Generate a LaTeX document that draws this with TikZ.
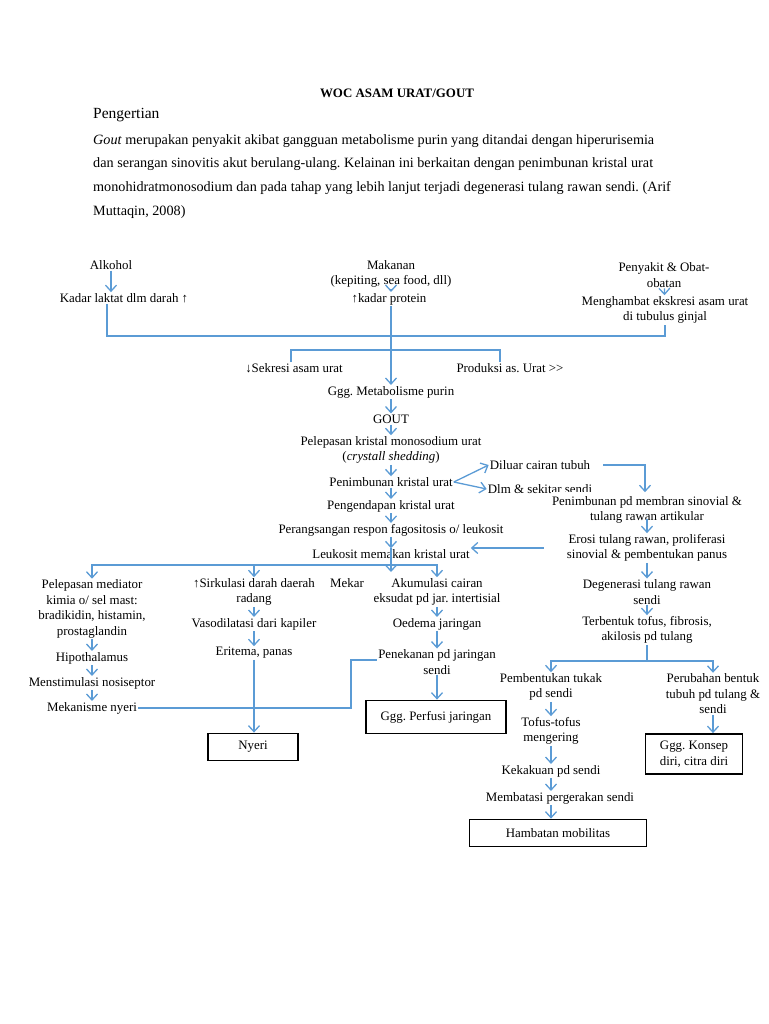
\documentclass[tikz,border=0pt]{standalone}
\usepackage{fontspec}
\setmainfont{Liberation Serif}
\frenchspacing
\usetikzlibrary{arrows.meta, positioning}
\definecolor{biru}{HTML}{5B9BD5}
\tikzset{
  teks/.style = {align=center, inner sep=1pt, font=\fontsize{12.9}{15.5}\selectfont},
  kotak/.style = {teks, draw, line width=1.8pt, minimum height=27pt},
  panah/.style = {draw=biru, line width=1.3pt, -{Straight Barb[length=6pt, width=11pt]}},
  sambung/.style = {draw=biru, line width=1.3pt}
}

\begin{document}
\begin{tikzpicture}[x=1pt, y=-1pt]
  \useasboundingbox (0,0) rectangle (768,1024);

  % Judul dan pengertian
  \node[font=\fontsize{12.9}{15}\selectfont\bfseries] (judul) at (397,93) {WOC ASAM URAT/GOUT};
  \node[anchor=west, inner sep=0, font=\fontsize{15.5}{24}\selectfont] (pengertian) at (93,115) {Pengertian};
  \node[anchor=north west, inner sep=0, align=left, font=\fontsize{14.2}{23.8}\selectfont] (definisi) at (93,134)
    {\textit{Gout} merupakan penyakit akibat gangguan metabolisme purin yang ditandai dengan hiperurisemia\\
     dan serangan sinovitis akut berulang-ulang. Kelainan ini berkaitan dengan penimbunan kristal urat\\
     monohidratmonosodium dan pada tahap yang lebih lanjut terjadi degenerasi tulang rawan sendi. (Arif\\
     Muttaqin, 2008)};

  % Penyebab
  \node[teks] (alkohol) at (111,265) {Alkohol};
  \node[teks] (laktat) at (124,298) {Kadar laktat dlm darah ↑};
  \node[teks] (makanan) at (391,274) {Makanan\\(kepiting, sea food, dll)};
  \node[teks] (protein) at (389,299) {↑kadar protein};
  \node[teks] (penyakit) at (664,275) {Penyakit \& Obat-\\obatan};
  \node[teks] (hambat) at (665,310) {Menghambat ekskresi asam urat\\di tubulus ginjal};
  \node[teks] (sekresi) at (294,368) {↓Sekresi asam urat};
  \node[teks] (produksi) at (510,368) {Produksi as. Urat >{}>};

  % Rantai tengah
  \node[teks] (metabolisme) at (391,392) {Ggg. Metabolisme purin};
  \node[teks] (gout) at (391,419) {GOUT};
  \node[teks] (pelepasan) at (391,450) {Pelepasan kristal monosodium urat\\(\textit{crystall shedding})};
  \node[teks] (penimbunan) at (391,482) {Penimbunan kristal urat};
  \node[teks] (diluar) at (540,465) {Diluar cairan tubuh};
  \node[teks] (dlm) at (540,489) {Dlm \& sekitar sendi};
  \node[teks] (pengendapan) at (391,506) {Pengendapan kristal urat};
  \node[teks] (perangsangan) at (391,530) {Perangsangan respon fagositosis o/ leukosit};
  \node[teks] (leukosit) at (391,554) {Leukosit memakan kristal urat};

  % Cabang kanan
  \node[teks, fill=white, inner ysep=4pt] (membran) at (647,510) {Penimbunan pd membran sinovial \&\\tulang rawan artikular};
  \node[teks] (erosi) at (647,548) {Erosi tulang rawan, proliferasi\\sinovial \& pembentukan panus};
  \node[teks] (degenerasi) at (647,592) {Degenerasi tulang rawan\\sendi};
  \node[teks] (tofus) at (647,630) {Terbentuk tofus, fibrosis,\\akilosis pd tulang};
  \node[teks] (pembentukan) at (551,687) {Pembentukan tukak\\pd sendi};
  \node[teks] (tofusk) at (551,731) {Tofus-tofus\\mengering};
  \node[teks] (kekakuan) at (551,771) {Kekakuan pd sendi};
  \node[teks] (membatasi) at (560,798) {Membatasi pergerakan sendi};
  \node[kotak, minimum width=177pt] (mobilitas) at (558,833) {Hambatan mobilitas};
  \node[teks] (perubahan) at (713,694) {Perubahan bentuk\\tubuh pd tulang \&\\sendi};
  \node[kotak, minimum width=97pt, minimum height=40pt] (konsep) at (694,754) {Ggg. Konsep\\diri, citra diri};

  % Cabang kiri
  \node[teks] (mediator) at (92,609) {Pelepasan mediator\\kimia o/ sel mast:\\bradikidin, histamin,\\prostaglandin};
  \node[teks] (hipothalamus) at (92,658) {Hipothalamus};
  \node[teks] (nosiseptor) at (92,683) {Menstimulasi nosiseptor};
  \node[teks] (mekanisme) at (92,708) {Mekanisme nyeri};
  \node[teks] (sirkulasi) at (254,592) {↑Sirkulasi darah daerah\\radang};
  \node[teks] (vasodilatasi) at (254,624) {Vasodilatasi dari kapiler};
  \node[teks] (eritema) at (254,653) {Eritema, panas};
  \node[kotak, minimum width=90pt] (nyeri) at (253,747) {Nyeri};
  \node[teks] (mekar) at (347,583) {Mekar};
  \node[teks] (akumulasi) at (437,592) {Akumulasi cairan\\eksudat pd jar. intertisial};
  \node[teks] (oedema) at (437,624) {Oedema jaringan};
  \node[teks] (penekanan) at (437,662) {Penekanan pd jaringan\\sendi};
  \node[kotak, minimum width=140pt, minimum height=33pt] (perfusi) at (436,717) {Ggg. Perfusi jaringan};

  % Koordinat bantu
  \coordinate (gabung) at (391,336);
  \coordinate (cabang) at (391,350);
  \coordinate (bagi) at (391,565);
  \coordinate (belok) at (351,660);
  \coordinate (pisah) at (647,661);

  % Sambungan penyebab
  \draw[panah] (alkohol) -- (alkohol |- laktat.north);
  \draw[panah] (makanan) -- (makanan |- protein.north);
  \draw[panah] (penyakit) -- (hambat);
  \draw[sambung] ([xshift=-4pt]alkohol |- laktat.south) |- (gabung) -| (hambat.south);
  \draw[sambung] ([xshift=-3pt]sekresi.north) |- (cabang) -| ([xshift=-10pt]produksi.north);
  \draw[panah] (protein.south -| gabung) -- (metabolisme);

  % Sambungan rantai tengah
  \draw[panah] (metabolisme) -- (gout);
  \draw[panah] (gout) -- (pelepasan);
  \draw[panah] (pelepasan) -- (penimbunan);
  \draw[panah] (penimbunan.east) -- (diluar.west);
  \draw[panah] (penimbunan.east) -- (dlm.west);
  \draw[panah] (penimbunan) -- (pengendapan);
  \draw[panah] (pengendapan) -- (perangsangan);
  \draw[panah] (perangsangan) -- (leukosit);
  \draw[panah] (leukosit.north) -- ([yshift=-7pt]bagi);
  \draw[panah] (bagi) -| (mediator.north);
  \draw[panah] (bagi) -| (sirkulasi.north);
  \draw[panah] (bagi) -| (akumulasi.north);

  % Sambungan kanan
  \draw[panah] ([xshift=12pt]diluar.east) -| ([xshift=-2pt]membran.north);
  \draw[panah] ([yshift=9pt]membran.south) -- (erosi.north);
  \draw[panah] ([xshift=-22pt]erosi.west) -- (erosi.west -| leukosit.east);
  \draw[panah] (erosi) -- (degenerasi);
  \draw[panah] (degenerasi) -- (tofus);
  \draw[sambung] (tofus) -- (pisah);
  \draw[panah] (pisah) -| (pembentukan.north);
  \draw[panah] (pisah) -| (perubahan.north);
  \draw[panah] (pembentukan) -- (tofusk);
  \draw[panah] (tofusk) -- (kekakuan);
  \draw[panah] (kekakuan) -- (kekakuan |- membatasi.north);
  \draw[panah] (membatasi.south -| kekakuan) -- (kekakuan |- mobilitas.north);
  \draw[panah] (perubahan.south) -- (perubahan |- konsep.north);

  % Sambungan kiri
  \draw[panah] (mediator) -- (hipothalamus);
  \draw[panah] (hipothalamus) -- (nosiseptor);
  \draw[panah] (nosiseptor) -- (mekanisme);
  \draw[sambung] (mekanisme.east) -| (belok) -- (belok -| penekanan.west);
  \draw[panah] (sirkulasi) -- (vasodilatasi);
  \draw[panah] (vasodilatasi) -- (eritema);
  \draw[panah] (eritema) -- (eritema |- nyeri.north);
  \draw[panah] (akumulasi) -- (oedema);
  \draw[panah] (oedema) -- (penekanan);
  \draw[panah] (penekanan) -- (penekanan |- perfusi.north);
\end{tikzpicture}
\end{document}
